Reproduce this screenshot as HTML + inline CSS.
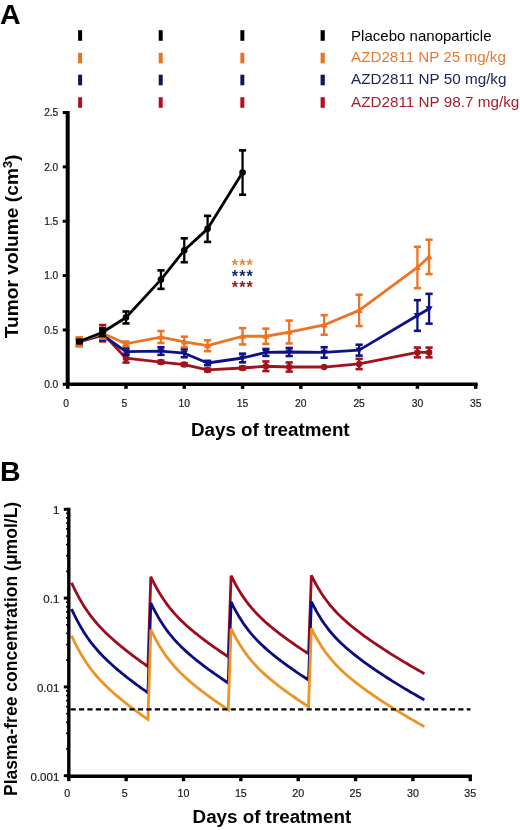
<!DOCTYPE html>
<html><head><meta charset="utf-8"><style>
html,body{margin:0;padding:0;background:#fff;}
svg{display:block;font-family:"Liberation Sans",Arial,sans-serif;}
</style></head><body>
<svg width="520" height="830" viewBox="0 0 520 830">
<rect width="520" height="830" fill="#fff"/>
<text x="0.10" y="23.80" font-size="28.5" text-anchor="start" font-weight="bold" fill="#000">A</text>
<rect x="78.10" y="30.20" width="4" height="10.6" fill="#000000"/>
<rect x="158.70" y="30.20" width="4" height="10.6" fill="#000000"/>
<rect x="240.35" y="30.20" width="4" height="10.6" fill="#000000"/>
<rect x="320.6" y="30.20" width="4.2" height="10.6" fill="#000000"/>
<rect x="78.10" y="52.80" width="4" height="10.6" fill="#E8741E"/>
<rect x="158.70" y="52.80" width="4" height="10.6" fill="#E8741E"/>
<rect x="240.35" y="52.80" width="4" height="10.6" fill="#E8741E"/>
<rect x="320.6" y="52.80" width="4.2" height="10.6" fill="#E8741E"/>
<rect x="78.10" y="74.70" width="4" height="10.6" fill="#0E1852"/>
<rect x="158.70" y="74.70" width="4" height="10.6" fill="#0E1852"/>
<rect x="240.35" y="74.70" width="4" height="10.6" fill="#0E1852"/>
<rect x="320.6" y="74.70" width="4.2" height="10.6" fill="#0E1852"/>
<rect x="78.10" y="97.20" width="4" height="10.6" fill="#B80C20"/>
<rect x="158.70" y="97.20" width="4" height="10.6" fill="#B80C20"/>
<rect x="240.35" y="97.20" width="4" height="10.6" fill="#B80C20"/>
<rect x="320.6" y="97.20" width="4.2" height="10.6" fill="#B80C20"/>
<text x="351.00" y="40.70" font-size="14.3" text-anchor="start" font-weight="normal" fill="#000" textLength="140.5" lengthAdjust="spacingAndGlyphs">Placebo nanoparticle</text>
<text x="351.00" y="62.30" font-size="14.3" text-anchor="start" font-weight="normal" fill="#E47A32" textLength="154.9" lengthAdjust="spacingAndGlyphs">AZD2811 NP 25 mg/kg</text>
<text x="351.00" y="84.40" font-size="14.3" text-anchor="start" font-weight="normal" fill="#1C2660" textLength="155.5" lengthAdjust="spacingAndGlyphs">AZD2811 NP 50 mg/kg</text>
<text x="351.00" y="106.70" font-size="14.3" text-anchor="start" font-weight="normal" fill="#A81E2A" textLength="168.3" lengthAdjust="spacingAndGlyphs">AZD2811 NP 98.7 mg/kg</text>
<line x1="67.70" y1="111.05" x2="67.70" y2="386.10" stroke="#000" stroke-width="4" stroke-linecap="butt"/>
<line x1="65.70" y1="384.30" x2="477.70" y2="384.30" stroke="#000" stroke-width="3.6"/>
<line x1="62.70" y1="384.30" x2="67.70" y2="384.30" stroke="#000" stroke-width="3"/>
<text x="58.30" y="387.90" font-size="10.2" text-anchor="end" font-weight="normal" fill="#1a1a1a" stroke="#1a1a1a" stroke-width="0.2">0.0</text>
<line x1="62.70" y1="329.95" x2="67.70" y2="329.95" stroke="#000" stroke-width="3"/>
<text x="58.30" y="333.55" font-size="10.2" text-anchor="end" font-weight="normal" fill="#1a1a1a" stroke="#1a1a1a" stroke-width="0.2">0.5</text>
<line x1="62.70" y1="275.60" x2="67.70" y2="275.60" stroke="#000" stroke-width="3"/>
<text x="58.30" y="279.20" font-size="10.2" text-anchor="end" font-weight="normal" fill="#1a1a1a" stroke="#1a1a1a" stroke-width="0.2">1.0</text>
<line x1="62.70" y1="221.25" x2="67.70" y2="221.25" stroke="#000" stroke-width="3"/>
<text x="58.30" y="224.85" font-size="10.2" text-anchor="end" font-weight="normal" fill="#1a1a1a" stroke="#1a1a1a" stroke-width="0.2">1.5</text>
<line x1="62.70" y1="166.90" x2="67.70" y2="166.90" stroke="#000" stroke-width="3"/>
<text x="58.30" y="170.50" font-size="10.2" text-anchor="end" font-weight="normal" fill="#1a1a1a" stroke="#1a1a1a" stroke-width="0.2">2.0</text>
<line x1="62.70" y1="112.55" x2="67.70" y2="112.55" stroke="#000" stroke-width="3"/>
<text x="58.30" y="116.15" font-size="10.2" text-anchor="end" font-weight="normal" fill="#1a1a1a" stroke="#1a1a1a" stroke-width="0.2">2.5</text>
<line x1="67.70" y1="384.30" x2="67.70" y2="388.80" stroke="#000" stroke-width="3.5"/>
<text x="66.20" y="406.60" font-size="10.3" text-anchor="middle" font-weight="normal" fill="#1a1a1a" stroke="#1a1a1a" stroke-width="0.2">0</text>
<line x1="125.99" y1="384.30" x2="125.99" y2="388.80" stroke="#000" stroke-width="3.5"/>
<text x="124.49" y="406.60" font-size="10.3" text-anchor="middle" font-weight="normal" fill="#1a1a1a" stroke="#1a1a1a" stroke-width="0.2">5</text>
<line x1="184.27" y1="384.30" x2="184.27" y2="388.80" stroke="#000" stroke-width="3.5"/>
<text x="184.27" y="406.60" font-size="10.3" text-anchor="middle" font-weight="normal" fill="#1a1a1a" stroke="#1a1a1a" stroke-width="0.2">10</text>
<line x1="242.56" y1="384.30" x2="242.56" y2="388.80" stroke="#000" stroke-width="3.5"/>
<text x="242.56" y="406.60" font-size="10.3" text-anchor="middle" font-weight="normal" fill="#1a1a1a" stroke="#1a1a1a" stroke-width="0.2">15</text>
<line x1="300.84" y1="384.30" x2="300.84" y2="388.80" stroke="#000" stroke-width="3.5"/>
<text x="300.84" y="406.60" font-size="10.3" text-anchor="middle" font-weight="normal" fill="#1a1a1a" stroke="#1a1a1a" stroke-width="0.2">20</text>
<line x1="359.13" y1="384.30" x2="359.13" y2="388.80" stroke="#000" stroke-width="3.5"/>
<text x="359.13" y="406.60" font-size="10.3" text-anchor="middle" font-weight="normal" fill="#1a1a1a" stroke="#1a1a1a" stroke-width="0.2">25</text>
<line x1="417.41" y1="384.30" x2="417.41" y2="388.80" stroke="#000" stroke-width="3.5"/>
<text x="417.41" y="406.60" font-size="10.3" text-anchor="middle" font-weight="normal" fill="#1a1a1a" stroke="#1a1a1a" stroke-width="0.2">30</text>
<line x1="475.70" y1="384.30" x2="475.70" y2="388.80" stroke="#000" stroke-width="3.5"/>
<text x="475.70" y="406.60" font-size="10.3" text-anchor="middle" font-weight="normal" fill="#1a1a1a" stroke="#1a1a1a" stroke-width="0.2">35</text>
<text x="270.30" y="436.00" font-size="18.8" text-anchor="middle" font-weight="bold" fill="#000">Days of treatment</text>
<text x="0.00" y="0.00" font-size="19.2" text-anchor="middle" font-weight="bold" fill="#000" transform="translate(17.7,246.4) rotate(-90)">Tumor volume (cm<tspan font-size="12.8" dy="-5.6">3</tspan><tspan dy="5.6">)</tspan></text>
<polyline points="79.36,341.91 102.67,333.21 125.99,358.21 160.96,362.02 184.27,364.52 207.59,369.95 242.56,368.00 265.87,366.26 289.19,367.02 324.16,367.02 359.13,363.97 417.41,352.45 429.07,352.45" fill="none" stroke="#A2121C" stroke-width="2.8" stroke-linejoin="round"/>
<line x1="79.36" y1="338.10" x2="79.36" y2="345.71" stroke="#A2121C" stroke-width="2.3"/>
<line x1="75.76" y1="338.10" x2="82.96" y2="338.10" stroke="#A2121C" stroke-width="2.6"/>
<line x1="75.76" y1="345.71" x2="82.96" y2="345.71" stroke="#A2121C" stroke-width="2.6"/>
<circle cx="79.36" cy="341.91" r="3.2" fill="#A2121C"/>
<line x1="102.67" y1="325.06" x2="102.67" y2="341.36" stroke="#A2121C" stroke-width="2.3"/>
<line x1="99.07" y1="325.06" x2="106.27" y2="325.06" stroke="#A2121C" stroke-width="2.6"/>
<line x1="99.07" y1="341.36" x2="106.27" y2="341.36" stroke="#A2121C" stroke-width="2.6"/>
<circle cx="102.67" cy="333.21" r="3.2" fill="#A2121C"/>
<line x1="125.99" y1="353.86" x2="125.99" y2="362.56" stroke="#A2121C" stroke-width="2.3"/>
<line x1="122.39" y1="353.86" x2="129.59" y2="353.86" stroke="#A2121C" stroke-width="2.6"/>
<line x1="122.39" y1="362.56" x2="129.59" y2="362.56" stroke="#A2121C" stroke-width="2.6"/>
<circle cx="125.99" cy="358.21" r="3.2" fill="#A2121C"/>
<line x1="160.96" y1="360.71" x2="160.96" y2="363.32" stroke="#A2121C" stroke-width="2.3"/>
<line x1="157.36" y1="360.71" x2="164.56" y2="360.71" stroke="#A2121C" stroke-width="2.6"/>
<line x1="157.36" y1="363.32" x2="164.56" y2="363.32" stroke="#A2121C" stroke-width="2.6"/>
<circle cx="160.96" cy="362.02" r="3.2" fill="#A2121C"/>
<line x1="184.27" y1="363.21" x2="184.27" y2="365.82" stroke="#A2121C" stroke-width="2.3"/>
<line x1="180.67" y1="363.21" x2="187.87" y2="363.21" stroke="#A2121C" stroke-width="2.6"/>
<line x1="180.67" y1="365.82" x2="187.87" y2="365.82" stroke="#A2121C" stroke-width="2.6"/>
<circle cx="184.27" cy="364.52" r="3.2" fill="#A2121C"/>
<line x1="207.59" y1="368.65" x2="207.59" y2="371.26" stroke="#A2121C" stroke-width="2.3"/>
<line x1="203.99" y1="368.65" x2="211.19" y2="368.65" stroke="#A2121C" stroke-width="2.6"/>
<line x1="203.99" y1="371.26" x2="211.19" y2="371.26" stroke="#A2121C" stroke-width="2.6"/>
<circle cx="207.59" cy="369.95" r="3.2" fill="#A2121C"/>
<line x1="242.56" y1="366.69" x2="242.56" y2="369.30" stroke="#A2121C" stroke-width="2.3"/>
<line x1="238.96" y1="366.69" x2="246.16" y2="366.69" stroke="#A2121C" stroke-width="2.6"/>
<line x1="238.96" y1="369.30" x2="246.16" y2="369.30" stroke="#A2121C" stroke-width="2.6"/>
<circle cx="242.56" cy="368.00" r="3.2" fill="#A2121C"/>
<line x1="265.87" y1="361.47" x2="265.87" y2="371.04" stroke="#A2121C" stroke-width="2.3"/>
<line x1="262.27" y1="361.47" x2="269.47" y2="361.47" stroke="#A2121C" stroke-width="2.6"/>
<line x1="262.27" y1="371.04" x2="269.47" y2="371.04" stroke="#A2121C" stroke-width="2.6"/>
<circle cx="265.87" cy="366.26" r="3.2" fill="#A2121C"/>
<line x1="289.19" y1="362.45" x2="289.19" y2="371.58" stroke="#A2121C" stroke-width="2.3"/>
<line x1="285.59" y1="362.45" x2="292.79" y2="362.45" stroke="#A2121C" stroke-width="2.6"/>
<line x1="285.59" y1="371.58" x2="292.79" y2="371.58" stroke="#A2121C" stroke-width="2.6"/>
<circle cx="289.19" cy="367.02" r="3.2" fill="#A2121C"/>
<circle cx="324.16" cy="367.02" r="3.2" fill="#A2121C"/>
<line x1="359.13" y1="358.86" x2="359.13" y2="369.08" stroke="#A2121C" stroke-width="2.3"/>
<line x1="355.53" y1="358.86" x2="362.73" y2="358.86" stroke="#A2121C" stroke-width="2.6"/>
<line x1="355.53" y1="369.08" x2="362.73" y2="369.08" stroke="#A2121C" stroke-width="2.6"/>
<circle cx="359.13" cy="363.97" r="3.2" fill="#A2121C"/>
<line x1="417.41" y1="347.56" x2="417.41" y2="357.34" stroke="#A2121C" stroke-width="2.3"/>
<line x1="413.81" y1="347.56" x2="421.01" y2="347.56" stroke="#A2121C" stroke-width="2.6"/>
<line x1="413.81" y1="357.34" x2="421.01" y2="357.34" stroke="#A2121C" stroke-width="2.6"/>
<circle cx="417.41" cy="352.45" r="3.2" fill="#A2121C"/>
<line x1="429.07" y1="347.56" x2="429.07" y2="357.34" stroke="#A2121C" stroke-width="2.3"/>
<line x1="425.47" y1="347.56" x2="432.67" y2="347.56" stroke="#A2121C" stroke-width="2.6"/>
<line x1="425.47" y1="357.34" x2="432.67" y2="357.34" stroke="#A2121C" stroke-width="2.6"/>
<circle cx="429.07" cy="352.45" r="3.2" fill="#A2121C"/>
<polyline points="79.36,341.91 102.67,335.06 125.99,351.69 160.96,351.04 184.27,353.21 207.59,362.99 242.56,357.99 265.87,352.45 289.19,352.02 324.16,352.45 359.13,350.17 417.41,315.49 429.07,308.75" fill="none" stroke="#0D1284" stroke-width="2.8" stroke-linejoin="round"/>
<line x1="79.36" y1="338.65" x2="79.36" y2="345.17" stroke="#0D1284" stroke-width="2.3"/>
<line x1="75.76" y1="338.65" x2="82.96" y2="338.65" stroke="#0D1284" stroke-width="2.6"/>
<line x1="75.76" y1="345.17" x2="82.96" y2="345.17" stroke="#0D1284" stroke-width="2.6"/>
<polygon points="75.76,339.31 82.96,339.31 79.36,345.51" fill="#0D1284"/>
<line x1="102.67" y1="330.17" x2="102.67" y2="339.95" stroke="#0D1284" stroke-width="2.3"/>
<line x1="99.07" y1="330.17" x2="106.27" y2="330.17" stroke="#0D1284" stroke-width="2.6"/>
<line x1="99.07" y1="339.95" x2="106.27" y2="339.95" stroke="#0D1284" stroke-width="2.6"/>
<polygon points="99.07,332.46 106.27,332.46 102.67,338.66" fill="#0D1284"/>
<line x1="125.99" y1="348.43" x2="125.99" y2="354.95" stroke="#0D1284" stroke-width="2.3"/>
<line x1="122.39" y1="348.43" x2="129.59" y2="348.43" stroke="#0D1284" stroke-width="2.6"/>
<line x1="122.39" y1="354.95" x2="129.59" y2="354.95" stroke="#0D1284" stroke-width="2.6"/>
<polygon points="122.39,349.09 129.59,349.09 125.99,355.29" fill="#0D1284"/>
<line x1="160.96" y1="347.23" x2="160.96" y2="354.84" stroke="#0D1284" stroke-width="2.3"/>
<line x1="157.36" y1="347.23" x2="164.56" y2="347.23" stroke="#0D1284" stroke-width="2.6"/>
<line x1="157.36" y1="354.84" x2="164.56" y2="354.84" stroke="#0D1284" stroke-width="2.6"/>
<polygon points="157.36,348.44 164.56,348.44 160.96,354.64" fill="#0D1284"/>
<line x1="184.27" y1="349.19" x2="184.27" y2="357.23" stroke="#0D1284" stroke-width="2.3"/>
<line x1="180.67" y1="349.19" x2="187.87" y2="349.19" stroke="#0D1284" stroke-width="2.6"/>
<line x1="180.67" y1="357.23" x2="187.87" y2="357.23" stroke="#0D1284" stroke-width="2.6"/>
<polygon points="180.67,350.61 187.87,350.61 184.27,356.81" fill="#0D1284"/>
<line x1="207.59" y1="360.82" x2="207.59" y2="365.17" stroke="#0D1284" stroke-width="2.3"/>
<line x1="203.99" y1="360.82" x2="211.19" y2="360.82" stroke="#0D1284" stroke-width="2.6"/>
<line x1="203.99" y1="365.17" x2="211.19" y2="365.17" stroke="#0D1284" stroke-width="2.6"/>
<polygon points="203.99,360.39 211.19,360.39 207.59,366.59" fill="#0D1284"/>
<line x1="242.56" y1="353.65" x2="242.56" y2="362.34" stroke="#0D1284" stroke-width="2.3"/>
<line x1="238.96" y1="353.65" x2="246.16" y2="353.65" stroke="#0D1284" stroke-width="2.6"/>
<line x1="238.96" y1="362.34" x2="246.16" y2="362.34" stroke="#0D1284" stroke-width="2.6"/>
<polygon points="238.96,355.39 246.16,355.39 242.56,361.59" fill="#0D1284"/>
<line x1="265.87" y1="348.97" x2="265.87" y2="355.93" stroke="#0D1284" stroke-width="2.3"/>
<line x1="262.27" y1="348.97" x2="269.47" y2="348.97" stroke="#0D1284" stroke-width="2.6"/>
<line x1="262.27" y1="355.93" x2="269.47" y2="355.93" stroke="#0D1284" stroke-width="2.6"/>
<polygon points="262.27,349.85 269.47,349.85 265.87,356.05" fill="#0D1284"/>
<line x1="289.19" y1="347.99" x2="289.19" y2="356.04" stroke="#0D1284" stroke-width="2.3"/>
<line x1="285.59" y1="347.99" x2="292.79" y2="347.99" stroke="#0D1284" stroke-width="2.6"/>
<line x1="285.59" y1="356.04" x2="292.79" y2="356.04" stroke="#0D1284" stroke-width="2.6"/>
<polygon points="285.59,349.42 292.79,349.42 289.19,355.62" fill="#0D1284"/>
<line x1="324.16" y1="347.23" x2="324.16" y2="357.67" stroke="#0D1284" stroke-width="2.3"/>
<line x1="320.56" y1="347.23" x2="327.76" y2="347.23" stroke="#0D1284" stroke-width="2.6"/>
<line x1="320.56" y1="357.67" x2="327.76" y2="357.67" stroke="#0D1284" stroke-width="2.6"/>
<polygon points="320.56,349.85 327.76,349.85 324.16,356.05" fill="#0D1284"/>
<line x1="359.13" y1="344.73" x2="359.13" y2="355.60" stroke="#0D1284" stroke-width="2.3"/>
<line x1="355.53" y1="344.73" x2="362.73" y2="344.73" stroke="#0D1284" stroke-width="2.6"/>
<line x1="355.53" y1="355.60" x2="362.73" y2="355.60" stroke="#0D1284" stroke-width="2.6"/>
<polygon points="355.53,347.57 362.73,347.57 359.13,353.77" fill="#0D1284"/>
<line x1="417.41" y1="300.17" x2="417.41" y2="330.82" stroke="#0D1284" stroke-width="2.3"/>
<line x1="413.81" y1="300.17" x2="421.01" y2="300.17" stroke="#0D1284" stroke-width="2.6"/>
<line x1="413.81" y1="330.82" x2="421.01" y2="330.82" stroke="#0D1284" stroke-width="2.6"/>
<polygon points="413.81,312.89 421.01,312.89 417.41,319.09" fill="#0D1284"/>
<line x1="429.07" y1="293.86" x2="429.07" y2="323.65" stroke="#0D1284" stroke-width="2.3"/>
<line x1="425.47" y1="293.86" x2="432.67" y2="293.86" stroke="#0D1284" stroke-width="2.6"/>
<line x1="425.47" y1="323.65" x2="432.67" y2="323.65" stroke="#0D1284" stroke-width="2.6"/>
<polygon points="425.47,306.15 432.67,306.15 429.07,312.35" fill="#0D1284"/>
<polyline points="79.36,341.91 102.67,333.21 125.99,343.75 160.96,337.02 184.27,341.91 207.59,345.71 242.56,336.25 265.87,336.25 289.19,332.02 324.16,324.95 359.13,310.38 417.41,267.45 429.07,256.90" fill="none" stroke="#EC7424" stroke-width="2.8" stroke-linejoin="round"/>
<line x1="79.36" y1="337.34" x2="79.36" y2="346.47" stroke="#EC7424" stroke-width="2.3"/>
<line x1="75.76" y1="337.34" x2="82.96" y2="337.34" stroke="#EC7424" stroke-width="2.6"/>
<line x1="75.76" y1="346.47" x2="82.96" y2="346.47" stroke="#EC7424" stroke-width="2.6"/>
<polygon points="75.76,344.51 82.96,344.51 79.36,338.31" fill="#EC7424"/>
<line x1="102.67" y1="327.78" x2="102.67" y2="338.65" stroke="#EC7424" stroke-width="2.3"/>
<line x1="99.07" y1="327.78" x2="106.27" y2="327.78" stroke="#EC7424" stroke-width="2.6"/>
<line x1="99.07" y1="338.65" x2="106.27" y2="338.65" stroke="#EC7424" stroke-width="2.6"/>
<polygon points="99.07,335.81 106.27,335.81 102.67,329.61" fill="#EC7424"/>
<line x1="125.99" y1="341.58" x2="125.99" y2="345.93" stroke="#EC7424" stroke-width="2.3"/>
<line x1="122.39" y1="341.58" x2="129.59" y2="341.58" stroke="#EC7424" stroke-width="2.6"/>
<line x1="122.39" y1="345.93" x2="129.59" y2="345.93" stroke="#EC7424" stroke-width="2.6"/>
<polygon points="122.39,346.35 129.59,346.35 125.99,340.15" fill="#EC7424"/>
<line x1="160.96" y1="331.04" x2="160.96" y2="342.99" stroke="#EC7424" stroke-width="2.3"/>
<line x1="157.36" y1="331.04" x2="164.56" y2="331.04" stroke="#EC7424" stroke-width="2.6"/>
<line x1="157.36" y1="342.99" x2="164.56" y2="342.99" stroke="#EC7424" stroke-width="2.6"/>
<polygon points="157.36,339.62 164.56,339.62 160.96,333.42" fill="#EC7424"/>
<line x1="184.27" y1="336.69" x2="184.27" y2="347.12" stroke="#EC7424" stroke-width="2.3"/>
<line x1="180.67" y1="336.69" x2="187.87" y2="336.69" stroke="#EC7424" stroke-width="2.6"/>
<line x1="180.67" y1="347.12" x2="187.87" y2="347.12" stroke="#EC7424" stroke-width="2.6"/>
<polygon points="180.67,344.51 187.87,344.51 184.27,338.31" fill="#EC7424"/>
<line x1="207.59" y1="340.28" x2="207.59" y2="351.15" stroke="#EC7424" stroke-width="2.3"/>
<line x1="203.99" y1="340.28" x2="211.19" y2="340.28" stroke="#EC7424" stroke-width="2.6"/>
<line x1="203.99" y1="351.15" x2="211.19" y2="351.15" stroke="#EC7424" stroke-width="2.6"/>
<polygon points="203.99,348.31 211.19,348.31 207.59,342.11" fill="#EC7424"/>
<line x1="242.56" y1="328.10" x2="242.56" y2="344.41" stroke="#EC7424" stroke-width="2.3"/>
<line x1="238.96" y1="328.10" x2="246.16" y2="328.10" stroke="#EC7424" stroke-width="2.6"/>
<line x1="238.96" y1="344.41" x2="246.16" y2="344.41" stroke="#EC7424" stroke-width="2.6"/>
<polygon points="238.96,338.85 246.16,338.85 242.56,332.65" fill="#EC7424"/>
<line x1="265.87" y1="328.65" x2="265.87" y2="343.86" stroke="#EC7424" stroke-width="2.3"/>
<line x1="262.27" y1="328.65" x2="269.47" y2="328.65" stroke="#EC7424" stroke-width="2.6"/>
<line x1="262.27" y1="343.86" x2="269.47" y2="343.86" stroke="#EC7424" stroke-width="2.6"/>
<polygon points="262.27,338.85 269.47,338.85 265.87,332.65" fill="#EC7424"/>
<line x1="289.19" y1="320.60" x2="289.19" y2="343.43" stroke="#EC7424" stroke-width="2.3"/>
<line x1="285.59" y1="320.60" x2="292.79" y2="320.60" stroke="#EC7424" stroke-width="2.6"/>
<line x1="285.59" y1="343.43" x2="292.79" y2="343.43" stroke="#EC7424" stroke-width="2.6"/>
<polygon points="285.59,334.62 292.79,334.62 289.19,328.42" fill="#EC7424"/>
<line x1="324.16" y1="315.17" x2="324.16" y2="334.73" stroke="#EC7424" stroke-width="2.3"/>
<line x1="320.56" y1="315.17" x2="327.76" y2="315.17" stroke="#EC7424" stroke-width="2.6"/>
<line x1="320.56" y1="334.73" x2="327.76" y2="334.73" stroke="#EC7424" stroke-width="2.6"/>
<polygon points="320.56,327.55 327.76,327.55 324.16,321.35" fill="#EC7424"/>
<line x1="359.13" y1="294.73" x2="359.13" y2="326.04" stroke="#EC7424" stroke-width="2.3"/>
<line x1="355.53" y1="294.73" x2="362.73" y2="294.73" stroke="#EC7424" stroke-width="2.6"/>
<line x1="355.53" y1="326.04" x2="362.73" y2="326.04" stroke="#EC7424" stroke-width="2.6"/>
<polygon points="355.53,312.98 362.73,312.98 359.13,306.78" fill="#EC7424"/>
<line x1="417.41" y1="246.79" x2="417.41" y2="288.10" stroke="#EC7424" stroke-width="2.3"/>
<line x1="413.81" y1="246.79" x2="421.01" y2="246.79" stroke="#EC7424" stroke-width="2.6"/>
<line x1="413.81" y1="288.10" x2="421.01" y2="288.10" stroke="#EC7424" stroke-width="2.6"/>
<polygon points="413.81,270.05 421.01,270.05 417.41,263.85" fill="#EC7424"/>
<line x1="429.07" y1="239.73" x2="429.07" y2="274.08" stroke="#EC7424" stroke-width="2.3"/>
<line x1="425.47" y1="239.73" x2="432.67" y2="239.73" stroke="#EC7424" stroke-width="2.6"/>
<line x1="425.47" y1="274.08" x2="432.67" y2="274.08" stroke="#EC7424" stroke-width="2.6"/>
<polygon points="425.47,259.50 432.67,259.50 429.07,253.30" fill="#EC7424"/>
<polyline points="79.36,341.47 102.67,332.23 125.99,317.45 160.96,279.62 184.27,250.27 207.59,228.86 242.56,172.55" fill="none" stroke="#000000" stroke-width="2.8" stroke-linejoin="round"/>
<line x1="79.36" y1="340.17" x2="79.36" y2="342.78" stroke="#000000" stroke-width="2.3"/>
<line x1="75.76" y1="340.17" x2="82.96" y2="340.17" stroke="#000000" stroke-width="2.6"/>
<line x1="75.76" y1="342.78" x2="82.96" y2="342.78" stroke="#000000" stroke-width="2.6"/>
<circle cx="79.36" cy="341.47" r="3.3" fill="#000000"/>
<line x1="102.67" y1="328.43" x2="102.67" y2="336.04" stroke="#000000" stroke-width="2.3"/>
<line x1="99.07" y1="328.43" x2="106.27" y2="328.43" stroke="#000000" stroke-width="2.6"/>
<line x1="99.07" y1="336.04" x2="106.27" y2="336.04" stroke="#000000" stroke-width="2.6"/>
<circle cx="102.67" cy="332.23" r="3.3" fill="#000000"/>
<line x1="125.99" y1="311.47" x2="125.99" y2="323.43" stroke="#000000" stroke-width="2.3"/>
<line x1="122.39" y1="311.47" x2="129.59" y2="311.47" stroke="#000000" stroke-width="2.6"/>
<line x1="122.39" y1="323.43" x2="129.59" y2="323.43" stroke="#000000" stroke-width="2.6"/>
<circle cx="125.99" cy="317.45" r="3.3" fill="#000000"/>
<line x1="160.96" y1="270.38" x2="160.96" y2="288.86" stroke="#000000" stroke-width="2.3"/>
<line x1="157.36" y1="270.38" x2="164.56" y2="270.38" stroke="#000000" stroke-width="2.6"/>
<line x1="157.36" y1="288.86" x2="164.56" y2="288.86" stroke="#000000" stroke-width="2.6"/>
<circle cx="160.96" cy="279.62" r="3.3" fill="#000000"/>
<line x1="184.27" y1="238.32" x2="184.27" y2="262.23" stroke="#000000" stroke-width="2.3"/>
<line x1="180.67" y1="238.32" x2="187.87" y2="238.32" stroke="#000000" stroke-width="2.6"/>
<line x1="180.67" y1="262.23" x2="187.87" y2="262.23" stroke="#000000" stroke-width="2.6"/>
<circle cx="184.27" cy="250.27" r="3.3" fill="#000000"/>
<line x1="207.59" y1="215.82" x2="207.59" y2="241.90" stroke="#000000" stroke-width="2.3"/>
<line x1="203.99" y1="215.82" x2="211.19" y2="215.82" stroke="#000000" stroke-width="2.6"/>
<line x1="203.99" y1="241.90" x2="211.19" y2="241.90" stroke="#000000" stroke-width="2.6"/>
<circle cx="207.59" cy="228.86" r="3.3" fill="#000000"/>
<line x1="242.56" y1="150.38" x2="242.56" y2="194.73" stroke="#000000" stroke-width="2.3"/>
<line x1="238.96" y1="150.38" x2="246.16" y2="150.38" stroke="#000000" stroke-width="2.6"/>
<line x1="238.96" y1="194.73" x2="246.16" y2="194.73" stroke="#000000" stroke-width="2.6"/>
<circle cx="242.56" cy="172.55" r="3.3" fill="#000000"/>
<text x="242.80" y="270.90" font-size="16.2" text-anchor="middle" font-weight="bold" fill="#E8883A" letter-spacing="1.0">***</text>
<text x="242.80" y="281.60" font-size="16.2" text-anchor="middle" font-weight="bold" fill="#1B2A66" letter-spacing="1.0">***</text>
<text x="242.80" y="292.70" font-size="16.2" text-anchor="middle" font-weight="bold" fill="#8E1C1E" letter-spacing="1.0">***</text>
<text x="0.10" y="480.80" font-size="28.5" text-anchor="start" font-weight="bold" fill="#000">B</text>
<polyline points="71.55,582.75 72.66,585.16 73.77,587.50 74.87,589.77 75.98,591.98 77.09,594.12 78.20,596.20 79.30,598.21 80.41,600.17 81.52,602.07 82.62,603.90 83.73,605.69 84.84,607.42 85.95,609.10 87.05,610.73 88.16,612.32 89.27,613.86 90.37,615.35 91.48,616.81 92.59,618.23 93.69,619.61 94.80,620.96 95.91,622.27 97.02,623.55 98.12,624.81 99.23,626.03 100.34,627.23 101.44,628.41 102.55,629.56 103.66,630.69 104.77,631.80 105.87,632.89 106.98,633.96 108.09,635.01 109.19,636.05 110.30,637.07 111.41,638.08 112.52,639.08 113.62,640.06 114.73,641.03 115.84,641.99 116.94,642.93 118.05,643.87 119.16,644.80 120.27,645.71 121.37,646.62 122.48,647.52 123.59,648.42 124.69,649.30 125.80,650.18 126.91,651.05 128.02,651.91 129.12,652.77 130.23,653.62 131.34,654.47 132.44,655.30 133.55,656.14 134.66,656.97 135.76,657.79 136.87,658.61 137.98,659.42 139.09,660.23 140.19,661.03 141.30,661.83 142.41,662.62 143.51,663.41 144.62,664.20 145.73,664.98 146.84,665.75 147.94,666.53 150.81,576.71 151.93,579.04 153.05,581.31 154.18,583.51 155.30,585.65 156.42,587.71 157.54,589.71 158.66,591.65 159.79,593.53 160.91,595.35 162.03,597.11 163.15,598.81 164.28,600.47 165.40,602.07 166.52,603.62 167.64,605.13 168.76,606.60 169.89,608.02 171.01,609.41 172.13,610.75 173.25,612.06 174.37,613.34 175.50,614.59 176.62,615.81 177.74,616.99 178.86,618.16 179.98,619.30 181.11,620.41 182.23,621.50 183.35,622.58 184.47,623.63 185.59,624.66 186.72,625.68 187.84,626.68 188.96,627.67 190.08,628.64 191.20,629.60 192.33,630.55 193.45,631.48 194.57,632.41 195.69,633.32 196.82,634.22 197.94,635.11 199.06,636.00 200.18,636.87 201.30,637.74 202.43,638.60 203.55,639.45 204.67,640.29 205.79,641.13 206.91,641.96 208.04,642.78 209.16,643.60 210.28,644.41 211.40,645.22 212.52,646.02 213.65,646.82 214.77,647.61 215.89,648.40 217.01,649.18 218.13,649.95 219.26,650.73 220.38,651.49 221.50,652.26 222.62,653.02 223.74,653.77 224.87,654.52 225.99,655.27 227.11,656.01 228.23,656.75 231.10,575.68 232.22,577.97 233.34,580.19 234.47,582.34 235.59,584.43 236.71,586.45 237.83,588.40 238.95,590.29 240.08,592.12 241.20,593.90 242.32,595.61 243.44,597.27 244.57,598.88 245.69,600.44 246.81,601.96 247.93,603.43 249.05,604.85 250.18,606.23 251.30,607.58 252.42,608.89 253.54,610.17 254.66,611.41 255.79,612.62 256.91,613.80 258.03,614.96 259.15,616.09 260.27,617.20 261.40,618.28 262.52,619.35 263.64,620.39 264.76,621.42 265.88,622.42 267.01,623.41 268.13,624.39 269.25,625.35 270.37,626.30 271.49,627.23 272.62,628.15 273.74,629.06 274.86,629.96 275.98,630.85 277.11,631.73 278.23,632.60 279.35,633.46 280.47,634.31 281.59,635.16 282.72,635.99 283.84,636.82 284.96,637.65 286.08,638.46 287.20,639.27 288.33,640.08 289.45,640.88 290.57,641.67 291.69,642.46 292.81,643.24 293.94,644.01 295.06,644.79 296.18,645.55 297.30,646.31 298.42,647.07 299.55,647.83 300.67,648.58 301.79,649.32 302.91,650.06 304.03,650.80 305.16,651.53 306.28,652.26 307.40,652.99 308.52,653.71 311.39,575.30 313.03,578.60 314.67,581.75 316.30,584.75 317.94,587.61 319.58,590.34 321.21,592.94 322.85,595.42 324.49,597.79 326.13,600.05 327.76,602.21 329.40,604.28 331.04,606.27 332.68,608.17 334.31,610.00 335.95,611.77 337.59,613.47 339.23,615.12 340.86,616.71 342.50,618.26 344.14,619.77 345.78,621.24 347.41,622.67 349.05,624.08 350.69,625.45 352.33,626.79 353.96,628.11 355.60,629.40 357.24,630.68 358.87,631.93 360.51,633.17 362.15,634.39 363.79,635.60 365.42,636.79 367.06,637.96 368.70,639.12 370.34,640.28 371.97,641.41 373.61,642.54 375.25,643.66 376.89,644.77 378.52,645.86 380.16,646.95 381.80,648.03 383.44,649.10 385.07,650.17 386.71,651.22 388.35,652.27 389.98,653.31 391.62,654.34 393.26,655.36 394.90,656.38 396.53,657.39 398.17,658.40 399.81,659.40 401.45,660.39 403.08,661.37 404.72,662.35 406.36,663.32 408.00,664.29 409.63,665.25 411.27,666.21 412.91,667.16 414.55,668.10 416.18,669.04 417.82,669.97 419.46,670.90 421.10,671.83 422.73,672.74 424.37,673.66" fill="none" stroke="#9C0C1E" stroke-width="2.8" stroke-linejoin="miter" stroke-miterlimit="2.2"/>
<polyline points="71.55,608.98 72.66,611.39 73.77,613.73 74.87,616.00 75.98,618.21 77.09,620.35 78.20,622.43 79.30,624.44 80.41,626.40 81.52,628.29 82.62,630.13 83.73,631.92 84.84,633.65 85.95,635.33 87.05,636.96 88.16,638.54 89.27,640.08 90.37,641.58 91.48,643.04 92.59,644.46 93.69,645.84 94.80,647.18 95.91,648.50 97.02,649.78 98.12,651.03 99.23,652.26 100.34,653.46 101.44,654.63 102.55,655.78 103.66,656.91 104.77,658.02 105.87,659.11 106.98,660.18 108.09,661.24 109.19,662.28 110.30,663.30 111.41,664.31 112.52,665.30 113.62,666.28 114.73,667.25 115.84,668.21 116.94,669.16 118.05,670.10 119.16,671.02 120.27,671.94 121.37,672.85 122.48,673.75 123.59,674.64 124.69,675.53 125.80,676.41 126.91,677.28 128.02,678.14 129.12,679.00 130.23,679.85 131.34,680.69 132.44,681.53 133.55,682.36 134.66,683.19 135.76,684.02 136.87,684.83 137.98,685.65 139.09,686.45 140.19,687.26 141.30,688.05 142.41,688.85 143.51,689.64 144.62,690.42 145.73,691.20 146.84,691.98 147.94,692.75 150.81,602.93 151.93,605.27 153.05,607.54 154.18,609.74 155.30,611.87 156.42,613.94 157.54,615.94 158.66,617.88 159.79,619.76 160.91,621.57 162.03,623.33 163.15,625.04 164.28,626.69 165.40,628.30 166.52,629.85 167.64,631.36 168.76,632.82 169.89,634.25 171.01,635.63 172.13,636.98 173.25,638.29 174.37,639.57 175.50,640.82 176.62,642.03 177.74,643.22 178.86,644.38 179.98,645.52 181.11,646.64 182.23,647.73 183.35,648.80 184.47,649.86 185.59,650.89 186.72,651.91 187.84,652.91 188.96,653.90 190.08,654.87 191.20,655.83 192.33,656.77 193.45,657.71 194.57,658.63 195.69,659.54 196.82,660.45 197.94,661.34 199.06,662.22 200.18,663.10 201.30,663.96 202.43,664.82 203.55,665.67 204.67,666.52 205.79,667.36 206.91,668.19 208.04,669.01 209.16,669.83 210.28,670.64 211.40,671.45 212.52,672.25 213.65,673.05 214.77,673.84 215.89,674.62 217.01,675.40 218.13,676.18 219.26,676.95 220.38,677.72 221.50,678.48 222.62,679.24 223.74,680.00 224.87,680.75 225.99,681.49 227.11,682.24 228.23,682.98 231.10,601.90 232.22,604.20 233.34,606.42 234.47,608.57 235.59,610.65 236.71,612.67 237.83,614.63 238.95,616.52 240.08,618.35 241.20,620.12 242.32,621.84 243.44,623.50 244.57,625.11 245.69,626.67 246.81,628.18 247.93,629.65 249.05,631.08 250.18,632.46 251.30,633.81 252.42,635.12 253.54,636.39 254.66,637.64 255.79,638.85 256.91,640.03 258.03,641.19 259.15,642.32 260.27,643.43 261.40,644.51 262.52,645.57 263.64,646.62 264.76,647.64 265.88,648.65 267.01,649.64 268.13,650.62 269.25,651.58 270.37,652.52 271.49,653.46 272.62,654.38 273.74,655.29 274.86,656.19 275.98,657.08 277.11,657.96 278.23,658.83 279.35,659.69 280.47,660.54 281.59,661.38 282.72,662.22 283.84,663.05 284.96,663.87 286.08,664.69 287.20,665.50 288.33,666.30 289.45,667.10 290.57,667.90 291.69,668.68 292.81,669.46 293.94,670.24 295.06,671.01 296.18,671.78 297.30,672.54 298.42,673.30 299.55,674.05 300.67,674.80 301.79,675.55 302.91,676.29 304.03,677.03 305.16,677.76 306.28,678.49 307.40,679.21 308.52,679.93 311.39,601.53 313.03,604.83 314.67,607.97 316.30,610.98 317.94,613.84 319.58,616.57 321.21,619.17 322.85,621.65 324.49,624.02 326.13,626.28 327.76,628.44 329.40,630.51 331.04,632.49 332.68,634.40 334.31,636.23 335.95,637.99 337.59,639.70 339.23,641.34 340.86,642.94 342.50,644.49 344.14,646.00 345.78,647.47 347.41,648.90 349.05,650.30 350.69,651.67 352.33,653.02 353.96,654.34 355.60,655.63 357.24,656.91 358.87,658.16 360.51,659.40 362.15,660.62 363.79,661.82 365.42,663.01 367.06,664.19 368.70,665.35 370.34,666.50 371.97,667.64 373.61,668.77 375.25,669.89 376.89,670.99 378.52,672.09 380.16,673.18 381.80,674.26 383.44,675.33 385.07,676.39 386.71,677.45 388.35,678.50 389.98,679.53 391.62,680.57 393.26,681.59 394.90,682.61 396.53,683.62 398.17,684.62 399.81,685.62 401.45,686.61 403.08,687.60 404.72,688.58 406.36,689.55 408.00,690.52 409.63,691.48 411.27,692.43 412.91,693.38 414.55,694.33 416.18,695.27 417.82,696.20 419.46,697.13 421.10,698.05 422.73,698.97 424.37,699.88" fill="none" stroke="#0C0C82" stroke-width="2.8" stroke-linejoin="miter" stroke-miterlimit="2.2"/>
<polyline points="71.55,635.71 72.66,638.12 73.77,640.46 74.87,642.73 75.98,644.94 77.09,647.08 78.20,649.16 79.30,651.17 80.41,653.13 81.52,655.02 82.62,656.86 83.73,658.65 84.84,660.38 85.95,662.06 87.05,663.69 88.16,665.28 89.27,666.81 90.37,668.31 91.48,669.77 92.59,671.19 93.69,672.57 94.80,673.91 95.91,675.23 97.02,676.51 98.12,677.76 99.23,678.99 100.34,680.19 101.44,681.36 102.55,682.52 103.66,683.65 104.77,684.75 105.87,685.84 106.98,686.92 108.09,687.97 109.19,689.01 110.30,690.03 111.41,691.04 112.52,692.03 113.62,693.02 114.73,693.99 115.84,694.94 116.94,695.89 118.05,696.83 119.16,697.75 120.27,698.67 121.37,699.58 122.48,700.48 123.59,701.37 124.69,702.26 125.80,703.14 126.91,704.01 128.02,704.87 129.12,705.73 130.23,706.58 131.34,707.42 132.44,708.26 133.55,709.10 134.66,709.92 135.76,710.75 136.87,711.56 137.98,712.38 139.09,713.18 140.19,713.99 141.30,714.79 142.41,715.58 143.51,716.37 144.62,717.15 145.73,717.94 146.84,718.71 147.94,719.48 150.81,629.66 151.93,632.00 153.05,634.27 154.18,636.47 155.30,638.61 156.42,640.67 157.54,642.67 158.66,644.61 159.79,646.49 160.91,648.31 162.03,650.07 163.15,651.77 164.28,653.43 165.40,655.03 166.52,656.58 167.64,658.09 168.76,659.56 169.89,660.98 171.01,662.36 172.13,663.71 173.25,665.02 174.37,666.30 175.50,667.55 176.62,668.76 177.74,669.95 178.86,671.12 179.98,672.25 181.11,673.37 182.23,674.46 183.35,675.53 184.47,676.59 185.59,677.62 186.72,678.64 187.84,679.64 188.96,680.63 190.08,681.60 191.20,682.56 192.33,683.51 193.45,684.44 194.57,685.36 195.69,686.28 196.82,687.18 197.94,688.07 199.06,688.95 200.18,689.83 201.30,690.70 202.43,691.55 203.55,692.41 204.67,693.25 205.79,694.09 206.91,694.92 208.04,695.74 209.16,696.56 210.28,697.37 211.40,698.18 212.52,698.98 213.65,699.78 214.77,700.57 215.89,701.35 217.01,702.14 218.13,702.91 219.26,703.68 220.38,704.45 221.50,705.21 222.62,705.97 223.74,706.73 224.87,707.48 225.99,708.23 227.11,708.97 228.23,709.71 231.10,628.64 232.22,630.93 233.34,633.15 234.47,635.30 235.59,637.39 236.71,639.41 237.83,641.36 238.95,643.25 240.08,645.08 241.20,646.85 242.32,648.57 243.44,650.23 244.57,651.84 245.69,653.40 246.81,654.92 247.93,656.38 249.05,657.81 250.18,659.19 251.30,660.54 252.42,661.85 253.54,663.12 254.66,664.37 255.79,665.58 256.91,666.76 258.03,667.92 259.15,669.05 260.27,670.16 261.40,671.24 262.52,672.31 263.64,673.35 264.76,674.37 265.88,675.38 267.01,676.37 268.13,677.35 269.25,678.31 270.37,679.25 271.49,680.19 272.62,681.11 273.74,682.02 274.86,682.92 275.98,683.81 277.11,684.69 278.23,685.56 279.35,686.42 280.47,687.27 281.59,688.12 282.72,688.95 283.84,689.78 284.96,690.61 286.08,691.42 287.20,692.23 288.33,693.04 289.45,693.83 290.57,694.63 291.69,695.41 292.81,696.20 293.94,696.97 295.06,697.74 296.18,698.51 297.30,699.27 298.42,700.03 299.55,700.78 300.67,701.53 301.79,702.28 302.91,703.02 304.03,703.76 305.16,704.49 306.28,705.22 307.40,705.94 308.52,706.67 311.39,628.26 313.03,631.56 314.67,634.71 316.30,637.71 317.94,640.57 319.58,643.30 321.21,645.90 322.85,648.38 324.49,650.75 326.13,653.01 327.76,655.17 329.40,657.24 331.04,659.22 332.68,661.13 334.31,662.96 335.95,664.72 337.59,666.43 339.23,668.08 340.86,669.67 342.50,671.22 344.14,672.73 345.78,674.20 347.41,675.63 349.05,677.03 350.69,678.40 352.33,679.75 353.96,681.07 355.60,682.36 357.24,683.64 358.87,684.89 360.51,686.13 362.15,687.35 363.79,688.55 365.42,689.74 367.06,690.92 368.70,692.08 370.34,693.23 371.97,694.37 373.61,695.50 375.25,696.62 376.89,697.73 378.52,698.82 380.16,699.91 381.80,700.99 383.44,702.06 385.07,703.13 386.71,704.18 388.35,705.23 389.98,706.27 391.62,707.30 393.26,708.32 394.90,709.34 396.53,710.35 398.17,711.36 399.81,712.35 401.45,713.34 403.08,714.33 404.72,715.31 406.36,716.28 408.00,717.25 409.63,718.21 411.27,719.16 412.91,720.11 414.55,721.06 416.18,722.00 417.82,722.93 419.46,723.86 421.10,724.78 422.73,725.70 424.37,726.62" fill="none" stroke="#EC9424" stroke-width="2.8" stroke-linejoin="miter" stroke-miterlimit="2.2"/>
<line x1="70.50" y1="709.30" x2="470.50" y2="709.30" stroke="#000" stroke-width="2.3" stroke-dasharray="5.2,3.23"/>
<line x1="68.80" y1="507.70" x2="68.80" y2="778.00" stroke="#000" stroke-width="3.4"/>
<line x1="67.10" y1="776.20" x2="471.95" y2="776.20" stroke="#000" stroke-width="3.4"/>
<line x1="63.80" y1="509.30" x2="68.80" y2="509.30" stroke="#000" stroke-width="3"/>
<text x="59.30" y="514.40" font-size="11.5" text-anchor="end" font-weight="normal" fill="#1a1a1a" stroke="#1a1a1a" stroke-width="0.2">1</text>
<line x1="66.00" y1="571.37" x2="68.80" y2="571.37" stroke="#000" stroke-width="1.6"/>
<line x1="66.00" y1="555.73" x2="68.80" y2="555.73" stroke="#000" stroke-width="1.6"/>
<line x1="66.00" y1="544.64" x2="68.80" y2="544.64" stroke="#000" stroke-width="1.6"/>
<line x1="66.00" y1="536.03" x2="68.80" y2="536.03" stroke="#000" stroke-width="1.6"/>
<line x1="66.00" y1="529.00" x2="68.80" y2="529.00" stroke="#000" stroke-width="1.6"/>
<line x1="66.00" y1="523.06" x2="68.80" y2="523.06" stroke="#000" stroke-width="1.6"/>
<line x1="66.00" y1="517.91" x2="68.80" y2="517.91" stroke="#000" stroke-width="1.6"/>
<line x1="66.00" y1="513.36" x2="68.80" y2="513.36" stroke="#000" stroke-width="1.6"/>
<line x1="63.80" y1="598.10" x2="68.80" y2="598.10" stroke="#000" stroke-width="3"/>
<text x="59.30" y="603.20" font-size="11.5" text-anchor="end" font-weight="normal" fill="#1a1a1a" stroke="#1a1a1a" stroke-width="0.2">0.1</text>
<line x1="66.00" y1="660.17" x2="68.80" y2="660.17" stroke="#000" stroke-width="1.6"/>
<line x1="66.00" y1="644.53" x2="68.80" y2="644.53" stroke="#000" stroke-width="1.6"/>
<line x1="66.00" y1="633.44" x2="68.80" y2="633.44" stroke="#000" stroke-width="1.6"/>
<line x1="66.00" y1="624.83" x2="68.80" y2="624.83" stroke="#000" stroke-width="1.6"/>
<line x1="66.00" y1="617.80" x2="68.80" y2="617.80" stroke="#000" stroke-width="1.6"/>
<line x1="66.00" y1="611.86" x2="68.80" y2="611.86" stroke="#000" stroke-width="1.6"/>
<line x1="66.00" y1="606.71" x2="68.80" y2="606.71" stroke="#000" stroke-width="1.6"/>
<line x1="66.00" y1="602.16" x2="68.80" y2="602.16" stroke="#000" stroke-width="1.6"/>
<line x1="63.80" y1="686.90" x2="68.80" y2="686.90" stroke="#000" stroke-width="3"/>
<text x="59.30" y="692.00" font-size="11.5" text-anchor="end" font-weight="normal" fill="#1a1a1a" stroke="#1a1a1a" stroke-width="0.2">0.01</text>
<line x1="66.00" y1="748.97" x2="68.80" y2="748.97" stroke="#000" stroke-width="1.6"/>
<line x1="66.00" y1="733.33" x2="68.80" y2="733.33" stroke="#000" stroke-width="1.6"/>
<line x1="66.00" y1="722.24" x2="68.80" y2="722.24" stroke="#000" stroke-width="1.6"/>
<line x1="66.00" y1="713.63" x2="68.80" y2="713.63" stroke="#000" stroke-width="1.6"/>
<line x1="66.00" y1="706.60" x2="68.80" y2="706.60" stroke="#000" stroke-width="1.6"/>
<line x1="66.00" y1="700.66" x2="68.80" y2="700.66" stroke="#000" stroke-width="1.6"/>
<line x1="66.00" y1="695.51" x2="68.80" y2="695.51" stroke="#000" stroke-width="1.6"/>
<line x1="66.00" y1="690.96" x2="68.80" y2="690.96" stroke="#000" stroke-width="1.6"/>
<line x1="63.80" y1="775.70" x2="68.80" y2="775.70" stroke="#000" stroke-width="3"/>
<text x="59.30" y="780.80" font-size="11.5" text-anchor="end" font-weight="normal" fill="#1a1a1a" stroke="#1a1a1a" stroke-width="0.2">0.001</text>
<line x1="68.80" y1="776.20" x2="68.80" y2="781.20" stroke="#000" stroke-width="3.4"/>
<text x="67.30" y="797.20" font-size="10.7" text-anchor="middle" font-weight="normal" fill="#1a1a1a" stroke="#1a1a1a" stroke-width="0.2">0</text>
<line x1="126.15" y1="776.20" x2="126.15" y2="781.20" stroke="#000" stroke-width="3.4"/>
<text x="124.65" y="797.20" font-size="10.7" text-anchor="middle" font-weight="normal" fill="#1a1a1a" stroke="#1a1a1a" stroke-width="0.2">5</text>
<line x1="183.50" y1="776.20" x2="183.50" y2="781.20" stroke="#000" stroke-width="3.4"/>
<text x="183.50" y="797.20" font-size="10.7" text-anchor="middle" font-weight="normal" fill="#1a1a1a" stroke="#1a1a1a" stroke-width="0.2">10</text>
<line x1="240.85" y1="776.20" x2="240.85" y2="781.20" stroke="#000" stroke-width="3.4"/>
<text x="240.85" y="797.20" font-size="10.7" text-anchor="middle" font-weight="normal" fill="#1a1a1a" stroke="#1a1a1a" stroke-width="0.2">15</text>
<line x1="298.20" y1="776.20" x2="298.20" y2="781.20" stroke="#000" stroke-width="3.4"/>
<text x="298.20" y="797.20" font-size="10.7" text-anchor="middle" font-weight="normal" fill="#1a1a1a" stroke="#1a1a1a" stroke-width="0.2">20</text>
<line x1="355.55" y1="776.20" x2="355.55" y2="781.20" stroke="#000" stroke-width="3.4"/>
<text x="355.55" y="797.20" font-size="10.7" text-anchor="middle" font-weight="normal" fill="#1a1a1a" stroke="#1a1a1a" stroke-width="0.2">25</text>
<line x1="412.90" y1="776.20" x2="412.90" y2="781.20" stroke="#000" stroke-width="3.4"/>
<text x="412.90" y="797.20" font-size="10.7" text-anchor="middle" font-weight="normal" fill="#1a1a1a" stroke="#1a1a1a" stroke-width="0.2">30</text>
<line x1="470.25" y1="776.20" x2="470.25" y2="781.20" stroke="#000" stroke-width="3.4"/>
<text x="470.25" y="797.20" font-size="10.7" text-anchor="middle" font-weight="normal" fill="#1a1a1a" stroke="#1a1a1a" stroke-width="0.2">35</text>
<text x="271.90" y="822.70" font-size="18.8" text-anchor="middle" font-weight="bold" fill="#000">Days of treatment</text>
<text x="0.00" y="0.00" font-size="17.55" text-anchor="middle" font-weight="bold" fill="#000" transform="translate(16.8,648.9) rotate(-90)">Plasma-free concentration (μmol/L)</text>
</svg>
</body></html>
